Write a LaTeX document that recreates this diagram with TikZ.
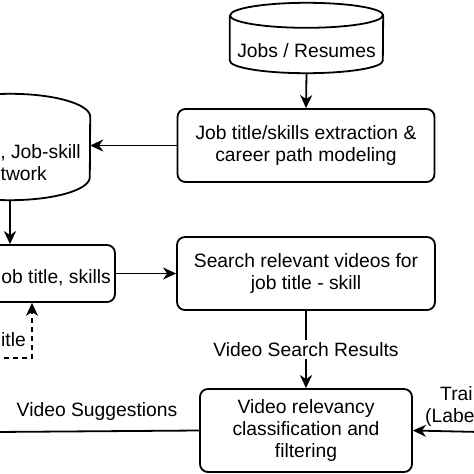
\documentclass[tikz,border=0pt]{standalone}
\usepackage{fontspec}
\setmainfont{Liberation Sans}
\usetikzlibrary{arrows.meta,calc}
\tikzset{%
  rbox/.style={draw,shape=rectangle,rounded corners=8pt,align=center,line width=1.8pt},
  dbase/.style={shape=rectangle,align=center},
  frag/.style={inner sep=0},
  dbline/.style={draw,line width=1.8pt},
  flow/.style={draw,line width=1.8pt,-{Stealth[length=13pt,width=12pt,inset=4pt]}},
  plain/.style={draw,line width=1.8pt}
}
% outline of a data store round node #1, x radius #2, y radius #3
\newcommand{\dbshape}[3]{%
  \path[dbline] ([yshift=#3pt]#1.north west) -- ([yshift=#3pt]#1.south west)
    arc[start angle=180,end angle=0,x radius=#2,y radius=#3]
    -- ([yshift=#3pt]#1.north east)
    arc[start angle=0,end angle=-180,x radius=#2,y radius=#3];
}

\begin{document}
\begin{tikzpicture}[x=1pt,y=-1pt,every node/.style={font=\fontsize{19.3pt}{22pt}\selectfont}]
  \useasboundingbox (0,0) rectangle (474,474);
  \clip (0,0) rectangle (474,474);
  \path
    (306.5,50.5) node (jobs)[dbase,minimum width=153pt,minimum height=45pt]{Jobs / Resumes}
    (10,170) node (net)[dbase,minimum width=160pt,minimum height=60pt]{}
    (306,145.5) node (extract)[rbox,minimum width=257pt,minimum height=73pt]{Job title/skills extraction \&\\career path modeling}
    (10,273.5) node (jobskill)[rbox,minimum width=210pt,minimum height=57pt]{}
    (306,273.5) node (search)[rbox,minimum width=258pt,minimum height=73pt]{Search relevant videos for\\job title - skill}
    (306,430.5) node (classify)[rbox,minimum width=212pt,minimum height=83pt]{Video relevancy\\classification and\\filtering};
  % data stores
  \dbshape{jobs}{76.5}{12.5}
  \path[dbline] ([yshift=12.5pt]jobs.north west) arc[start angle=180,end angle=0,x radius=76.5,y radius=12.5];
  \dbshape{net}{80}{23}
  % text cut by the frame
  \path
    (81,158) node (nettxta)[frag,anchor=base east]{, Job-skill}
    (47,180) node (nettxtb)[frag,anchor=base east]{twork}
    (111,283) node (jobskilltxt)[frag,anchor=base east]{ob title, skills}
    (26,346) node (usertxt)[frag,anchor=base east]{itle}
    (440,400) node (traintxta)[frag,anchor=base west]{Trai}
    (425,422) node (traintxtb)[frag,anchor=base west]{(Labe};
  \coordinate (dashin) at (-5,358);
  \coordinate (sugout) at (-5,432);
  \coordinate (trainin) at (480,432);
  % connectors
  \draw[flow] (jobs.south) -- (extract.north);
  \draw[flow] (extract.west) -- (extract.west -| net.east);
  \draw[flow] (net.south) -- (jobskill.north);
  \draw[flow] (jobskill.east) -- (search.west);
  \draw[flow] (search.south) -- (classify.north)
    node (vsr)[midway,fill=white,inner sep=2pt]{Video Search Results};
  \draw[flow,dash pattern=on 5pt off 4pt] (dashin) -| ([xshift=22pt]jobskill.south);
  \draw[plain] (classify.west) -- (sugout)
    node (sugtxt)[midway,yshift=20pt]{Video Suggestions};
  \draw[flow] (trainin) -- (classify.east);
\end{tikzpicture}
\end{document}
